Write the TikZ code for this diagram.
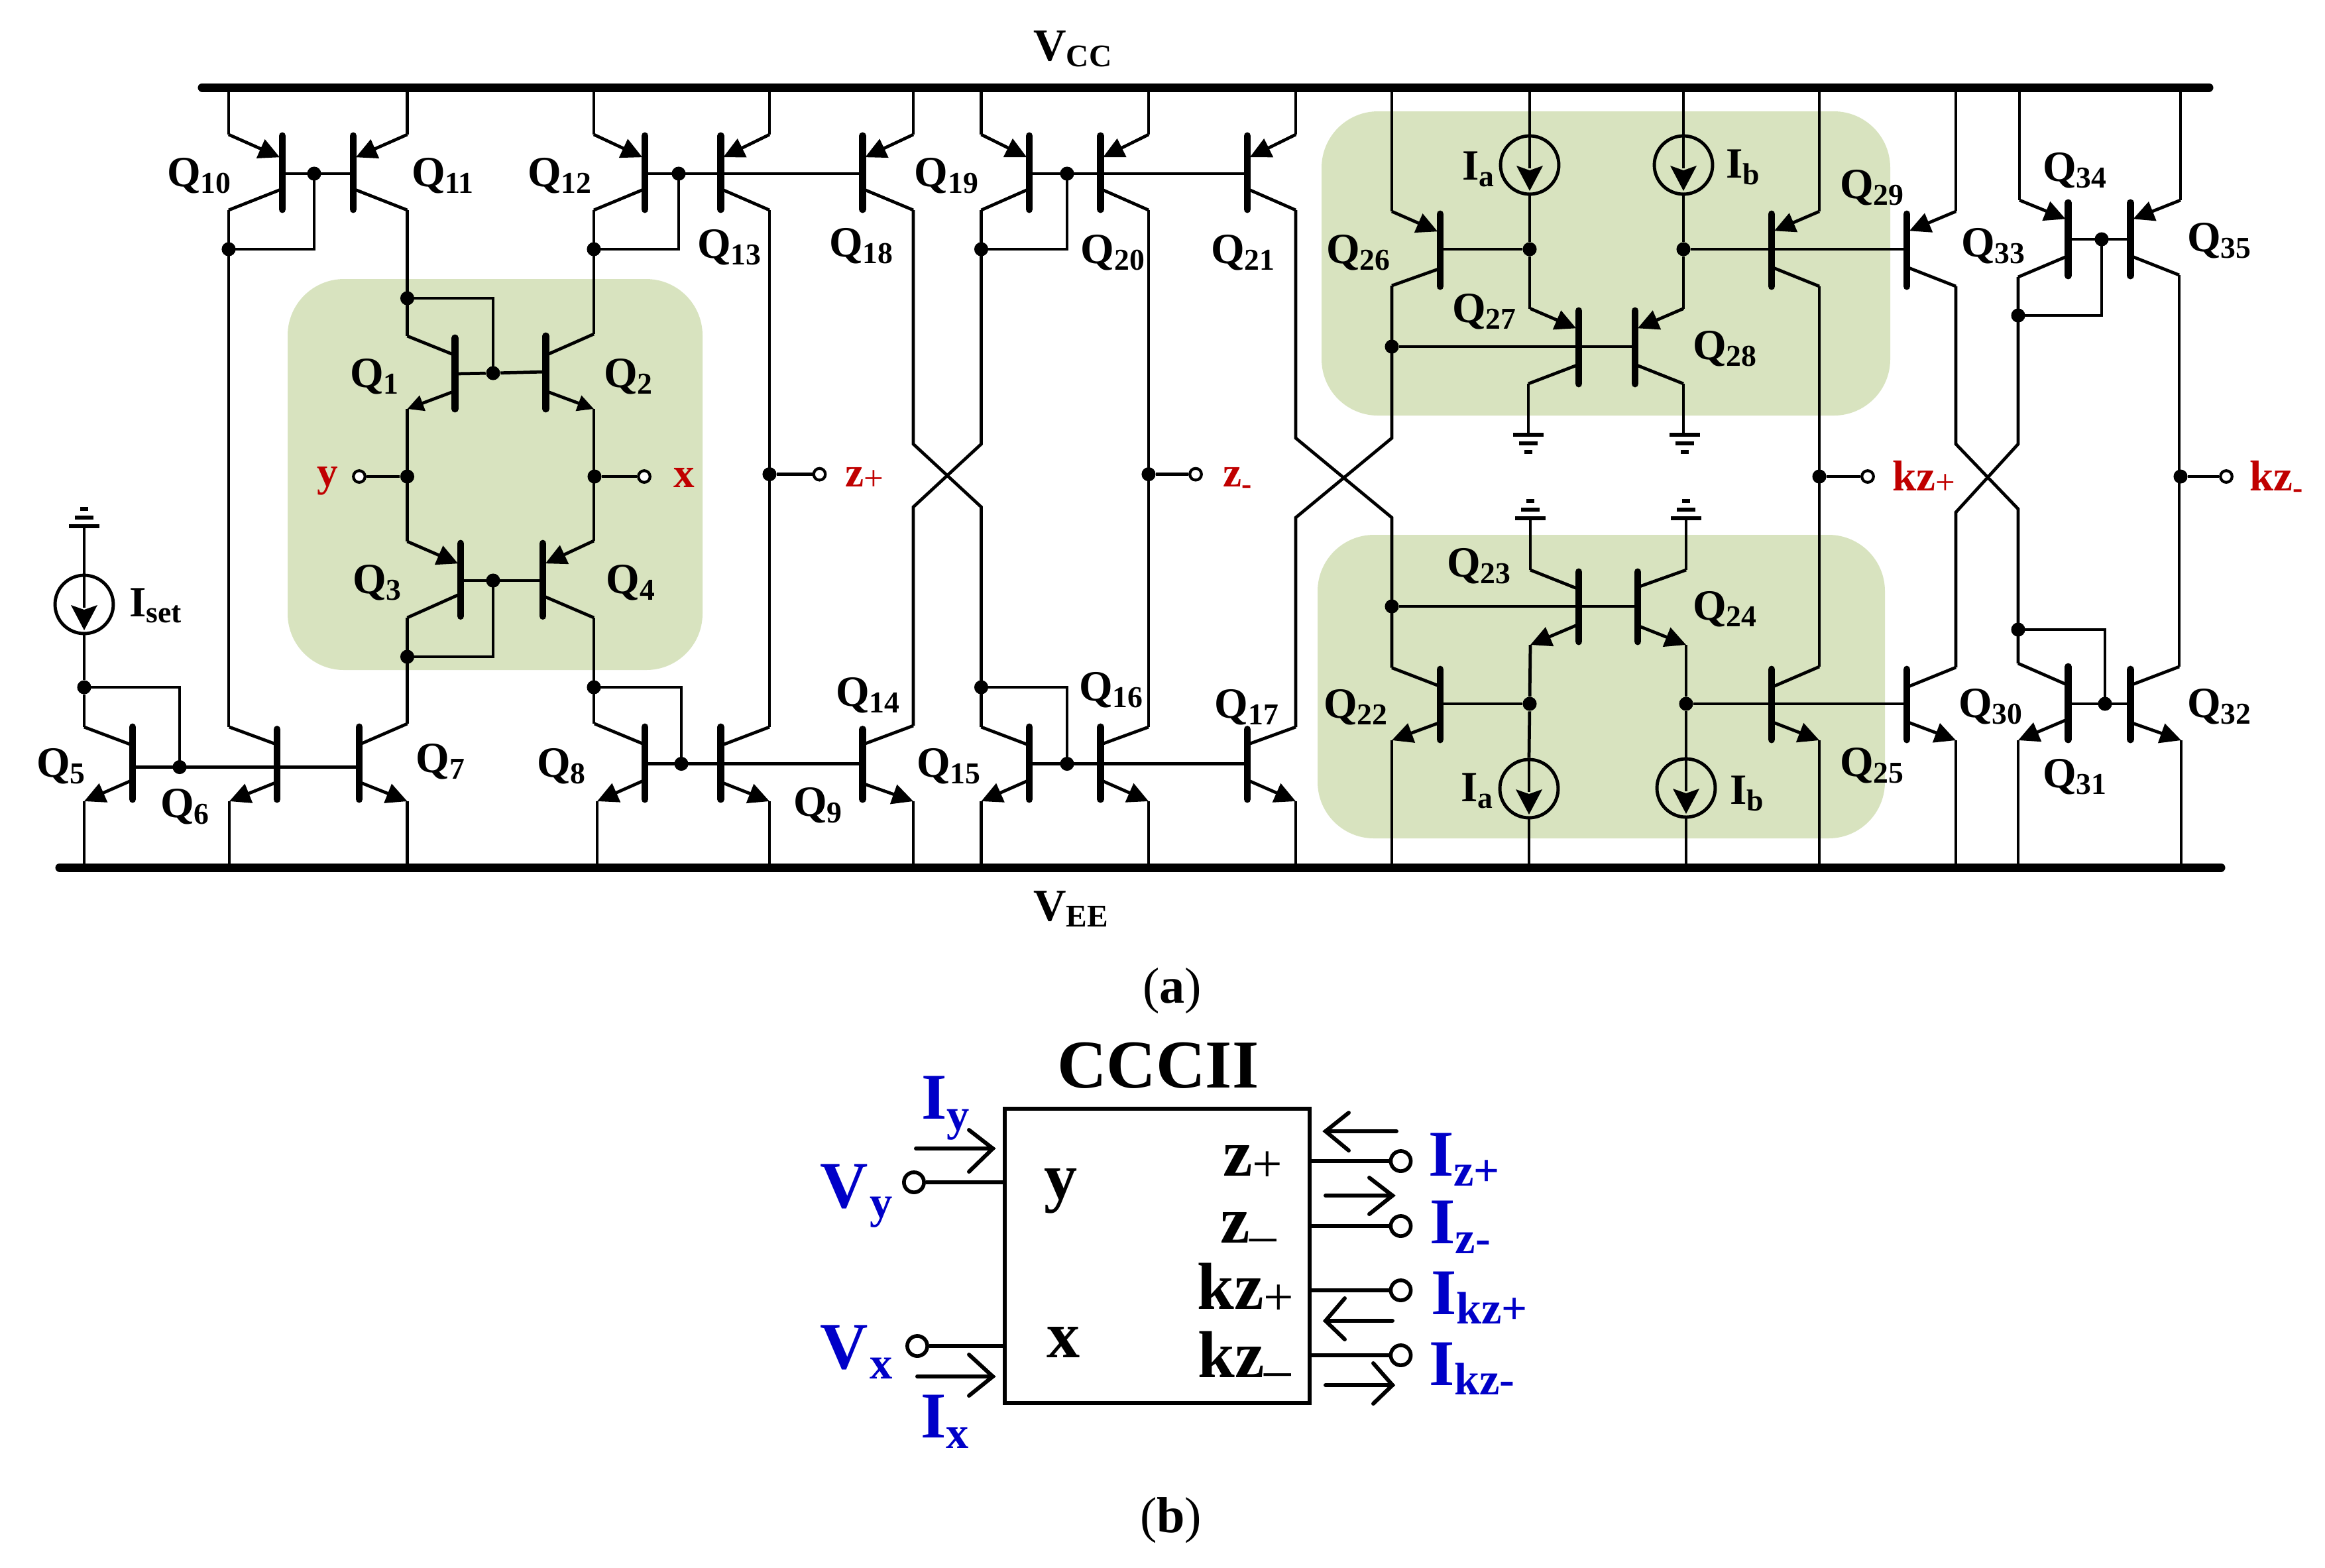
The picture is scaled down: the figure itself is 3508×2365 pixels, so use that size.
\documentclass[tikz,border=0pt]{standalone}
\usepackage{fontspec}
\setmainfont{Liberation Serif}
\usetikzlibrary{arrows.meta,calc}
\definecolor{grn}{HTML}{D8E3BF}
\definecolor{lred}{HTML}{C00000}
\definecolor{lblue}{HTML}{0000C8}
\tikzset{
 wire/.style={line width=1.35pt,line join=miter},
 rail/.style={line width=3.7pt,line cap=round},
 barb/.style={line width=3.1pt,line cap=round},
 jn/.style={circle,fill=black,inner sep=0pt,minimum size=6pt},
 term/.style={circle,draw=black,fill=white,line width=1.2pt,inner sep=0pt,minimum size=5pt},
 bterm/.style={circle,draw=black,fill=white,line width=1.6pt,inner sep=0pt,minimum size=8.6pt},
 src/.style={circle,draw=black,line width=1.4pt,inner sep=0pt,minimum size=25pt},
 txt/.style={anchor=base west,inner sep=0pt,outer sep=0pt},
 green/.style={fill=grn,rounded corners=0.85cm},
 bline/.style={line width=1.7pt},
 oarrow/.style={line width=1.7pt,line cap=round,line join=miter},
 tipT/.style={-{Triangle[length=9pt,width=8.6pt]},shorten >=1.2pt},
 tipB/.style={-{Triangle[length=9pt,width=8.6pt]}},
 tipS/.style={-{Triangle[length=7pt,width=6.8pt]}}
}
\newcommand{\lb}[9][black]{\node[txt,text=#1] (#2) at (#3,#4) {\fontsize{#5}{#5}\selectfont\bfseries #6\fontsize{#7}{#7}\selectfont\mdseries\raisebox{-#9}{#8}};}
\newcommand{\lbb}[9][lblue]{\node[txt,text=#1] (#2) at (#3,#4) {\fontsize{#5}{#5}\selectfont\bfseries #6\fontsize{#7}{#7}\selectfont\raisebox{-#9}{#8}};}
\newcommand{\Qq}[3]{\lbb[black]{lQ#3}{#1}{#2-3}{18.5pt}{Q}{13pt}{#3}{3.1pt}}
\def\kT{T}\def\kB{B}\def\kS{S}
\newcommand{\bjt}[5]{\def\bjtn{#1}\def\bjtt{#2}\def\bjtb{#3}\def\bjtwa{#4}\def\bjtwb{#5}\bjtrest}
\newcommand{\bjtrest}[6]{%
 \coordinate (\bjtn) at (\bjtb,{(#1+#2)/2});
 \ifx\bjtt\kT
  \draw[wire,tipT] (\bjtwa,#3) -- (\bjtb,#4);
  \draw[wire] (\bjtb,#5) -- (\bjtwb,#6);
 \else
  \draw[wire] (\bjtwa,#3) -- (\bjtb,#4);
  \ifx\bjtt\kS
   \draw[wire,tipS] (\bjtb,#5) -- (\bjtwb,#6);
  \else
   \draw[wire,tipB] (\bjtb,#5) -- (\bjtwb,#6);
  \fi
 \fi
 \draw[barb] (\bjtb,#1) -- (\bjtb,#2);
}
\newcommand{\isrc}[3]{%
 \node[src] (#1) at (#2,#3) {};
 \draw[wire] (#1.north) -- (#2,#3+5);
 \fill (#2,#3+39) -- (#2-20,#3+1) -- (#2,#3+8) -- (#2+20,#3+1) -- cycle;
}
\newcommand{\gnd}[3]{%
 \draw[line width=1.5pt] (#1-23,#2) -- (#1+23,#2);
 \draw[line width=1.5pt] (#1-14,#2+#3*13) -- (#1+14,#2+#3*13);
 \draw[line width=1.5pt] (#1-6,#2+#3*26) -- (#1+6,#2+#3*26);
}
\begin{document}
\begin{tikzpicture}[x=0.01cm,y=-0.01cm]
\useasboundingbox (0,0) rectangle (3508,2365);
% green regions
\fill[green] (434,421) rectangle (1060,1011);
\fill[green] (1994,168) rectangle (2852,627);
\fill[green] (1988,807) rectangle (2844,1265);
% rails
\draw[rail] (305,132) -- (3333,132);
\draw[rail] (90,1309) -- (3351,1309);
% junctions
\foreach \n/\x/\y in {a1/474/262,a2/345/376,b1/1024/262,b2/896/376,c1/1610/262,c2/1480.5/376,
 d1/614.5/450,d2/744/563,d3/614.5/719,d4/897/719,d5/744/876,d6/614.5/991,d7/896/1037,d8/1028/1152.5,
 e1/127/1037,e2/271/1157.5,f1/1161/715.6,f2/1733/715.6,g1/1480.5/1037,g2/1610/1152.5,
 h1/2308/376,h2/2540/376,h3/2100/523,h4/2100/915,h5/2308/1062,h6/2544/1062,
 i1/2745/719,i2/3290/719,j1/3171/361,j2/3045/476,j3/3045/950,j4/3176/1062}
 \node[jn] (\n) at (\x,\y) {};
% terminals
\foreach \n/\x/\y in {ty/542/719,tx/972/719,tzp/1236.5/715.6,tzm/1804/715.6,tkp/2818/719,tkm/3359/719}
 \node[term] (\n) at (\x,\y) {};
% transistors, upper row
\bjt{T10}{T}{426}{345}{345}{205}{316}{203}{239}{285}{317}
\bjt{T11}{T}{533}{614.5}{614.5}{205}{316}{203}{239}{285}{317}
\bjt{T12}{T}{973}{896}{896}{205}{316}{203}{239}{285}{317}
\bjt{T13}{T}{1087.5}{1161}{1161}{205}{316}{203}{239}{285}{317}
\bjt{T18}{T}{1301.5}{1378}{1378}{205}{316}{203}{239}{285}{317}
\bjt{T19}{T}{1553}{1480.5}{1480.5}{205}{316}{203}{239}{285}{317}
\bjt{T20}{T}{1660.5}{1733}{1733}{205}{316}{203}{239}{285}{317}
\bjt{T21}{T}{1882}{1955}{1955}{205}{316}{203}{239}{285}{317}
\bjt{T26}{T}{2173}{2100}{2100}{323}{432}{319}{351}{405}{431}
\bjt{T29}{T}{2673}{2745}{2745}{323}{432}{319}{350}{403}{432}
\bjt{T33}{T}{2877}{2951}{2951}{323}{432}{319}{350}{403}{432}
\bjt{T34}{T}{3120.5}{3047}{3045}{306}{416}{302}{332}{386}{418}
\bjt{T35}{T}{3214.5}{3290}{3288}{306}{416}{302}{332}{386}{415}
\bjt{T27}{T}{2382}{2309}{2306}{469}{579}{465.6}{497}{550}{579}
\bjt{T28}{T}{2467}{2540}{2540}{469}{579}{465.6}{497}{550}{579}
% transistors, lower row
\bjt{T5}{B}{200}{127}{127}{1097}{1206}{1097}{1124.5}{1177}{1209}
\bjt{T6}{B}{418}{346}{346}{1100.5}{1206}{1097}{1123.5}{1180}{1209}
\bjt{T7}{B}{542}{614.5}{614.5}{1097}{1206}{1092}{1123.5}{1180}{1209}
\bjt{T8}{B}{973}{897}{901}{1097}{1206}{1092}{1123.5}{1177}{1209}
\bjt{T9}{B}{1087.5}{1161}{1161}{1097}{1206}{1097}{1125}{1180}{1209}
\bjt{T14}{B}{1301.5}{1378}{1378}{1100.5}{1206}{1095}{1123.5}{1182}{1209}
\bjt{T15}{B}{1553}{1480.5}{1480.5}{1097}{1206}{1097}{1124.5}{1177}{1209}
\bjt{T16}{B}{1660.5}{1733}{1733}{1097}{1206}{1097}{1123.5}{1177}{1209}
\bjt{T17}{B}{1882}{1955}{1955}{1100.5}{1206}{1097}{1123.5}{1177}{1209}
\bjt{T22}{B}{2173}{2100}{2100}{1010}{1116}{1007.6}{1035.7}{1090}{1117}
\bjt{T25}{B}{2673}{2745}{2745}{1010}{1116}{1006}{1037}{1089}{1117}
\bjt{T30}{B}{2877}{2951}{2951}{1010}{1116}{1007}{1037}{1089}{1117}
\bjt{T31}{B}{3120.5}{3045}{3045}{1006}{1116}{1001}{1034}{1085}{1117}
\bjt{T32}{B}{3214.5}{3288}{3291}{1010}{1116}{1006}{1034}{1090}{1117}
\bjt{T23}{B}{2382}{2309}{2309}{863}{968}{860}{889}{942}{973}
\bjt{T24}{B}{2471}{2544}{2544}{863}{968}{860}{886}{944}{973}
% core
\bjt{T1}{S}{686.5}{614.5}{614.5}{510}{617}{507}{536}{590}{617}
\bjt{T2}{S}{823.5}{896}{896}{507}{617}{504}{536}{590}{617}
\bjt{T3}{T}{695}{614.5}{614.5}{820}{929.6}{817}{852}{896}{932}
\bjt{T4}{T}{819}{896}{896}{820}{929.6}{816}{852}{899}{932}
% rail stubs
\foreach \x/\y in {345/203,614.5/203,896/203,1161/203,1378/203,1480.5/203,1733/203,1955/203,2100/319,2745/319,2951/319,3047/302,3290/302}
 \draw[wire] (\x,132) -- (\x,\y);
\foreach \x/\y in {127/1209,346/1209,614.5/1209,901/1209,1161/1209,1378/1209,1480.5/1209,1733/1209,1955/1209,2100/1117,2745/1117,2951/1117,3045/1117,3291/1117}
 \draw[wire] (\x,\y) -- (\x,1309);
% bases
\draw[wire] (T10|-a1) -- (T11|-a1);
\draw[wire] (T12|-b1) -- (T18|-b1);
\draw[wire] (T19|-c1) -- (T21|-c1);
\draw[wire] (T26|-h1) -- (h1);
\draw[wire] (h2) -- (T33|-h2);
\draw[wire] (h3) -- (T28|-h3);
\draw[wire] (T34|-j1) -- (T35|-j1);
\draw[wire] (686.5,564) -- (d2) -- (823.5,561);
\draw[wire] (T3|-d5) -- (T4|-d5);
\draw[wire] (T5|-e2) -- (T7|-e2);
\draw[wire] (T8|-d8) -- (T14|-d8);
\draw[wire] (T15|-g2) -- (T17|-g2);
\draw[wire] (T22|-h5) -- (h5);
\draw[wire] (h6) -- (T30|-h6);
\draw[wire] (T31|-j4) -- (T32|-j4);
\draw[wire] (h4) -- (T24|-h4);
% feedback
\draw[wire] (a2.center) -| (a1.center);
\draw[wire] (b2.center) -| (b1.center);
\draw[wire] (c2.center) -| (c1.center);
\draw[wire] (d1.center) -| (d2.center);
\draw[wire] (d6.center) -| (d5.center);
\draw[wire] (e1.center) -| (e2.center);
\draw[wire] (d7.center) -| (d8.center);
\draw[wire] (g1.center) -| (g2.center);
\draw[wire] (j2.center) -| (j1.center);
\draw[wire] (j3.center) -| (j4.center);
% long wires
\draw[wire] (345,317) -- (345,1097);
\draw[wire] (614.5,317) -- (614.5,507);
\draw[wire] (896,317) -- (896,504);
\draw[wire] (1161,317) -- (1161,1097);
\draw[wire] (1378,317) -- (1378,670) -- (1480.5,765) -- (1480.5,1097);
\draw[wire] (1480.5,317) -- (1480.5,670) -- (1378,765) -- (1378,1095);
\draw[wire] (1733,317) -- (1733,1097);
\draw[wire] (1955,317) -- (1955,661) -- (2100,781) -- (2100,1007.6);
\draw[wire] (2100,431) -- (2100,661) -- (1955,781) -- (1955,1097);
\draw[wire] (2745,432) -- (2745,1006);
\draw[wire] (2951,432) -- (2951,670) -- (3045,768) -- (3045,1001);
\draw[wire] (3045,418) -- (3045,670) -- (2951,773) -- (2951,1007);
\draw[wire] (3288,415) -- (3288,1006);
\draw[wire] (614.5,617) -- (614.5,817);
\draw[wire] (896,617) -- (896,816);
\draw[wire] (614.5,932) -- (614.5,1092);
\draw[wire] (896,932) -- (896,1092);
% outputs
\draw[wire] (d3) -- (ty);
\draw[wire] (d4) -- (tx);
\draw[wire] (f1) -- (tzp);
\draw[wire] (f2) -- (tzm);
\draw[wire] (i1) -- (tkp);
\draw[wire] (i2) -- (tkm);
% current sources
\isrc{Ia}{2308}{249}
\isrc{Ib}{2540}{249}
\isrc{Ic}{2307}{1190}
\isrc{Id}{2544}{1189}
\isrc{Is}{127}{912}
\draw[wire] (2308,132) -- (Ia.north);
\draw[wire] (2540,132) -- (Ib.north);
\draw[wire] (Ia.south) -- (h1);
\draw[wire] (Ib.south) -- (h2);
\draw[wire] (h1) -- (2308,465.6);
\draw[wire] (h2) -- (2540,465.6);
\draw[wire] (2309,973) -- (h5);
\draw[wire] (2544,973) -- (h6);
\draw[wire] (h5) -- (Ic.north);
\draw[wire] (h6) -- (Id.north);
\draw[wire] (Ic.south) -- (2307,1309);
\draw[wire] (Id.south) -- (2544,1309);
\draw[wire] (Is.south) -- (e1);
\draw[wire] (e1) -- (127,1097);
\draw[wire] (127,794) -- (Is.north);
% grounds
\gnd{127}{794}{-1}
\gnd{2306}{656}{1}
\gnd{2542}{656}{1}
\gnd{2309}{782}{-1}
\gnd{2544}{782}{-1}
\draw[wire] (2306,579) -- (2306,656);
\draw[wire] (2540,579) -- (2540,656);
\draw[wire] (2309,860) -- (2309,782);
\draw[wire] (2544,860) -- (2544,782);
% transistor labels
\Qq{252}{284}{10}\Qq{621}{284}{11}\Qq{796}{284}{12}\Qq{1052}{392}{13}
\Qq{528}{587}{1}\Qq{911}{587}{2}\Qq{532}{898}{3}\Qq{914.5}{898}{4}
\Qq{55}{1175}{5}\Qq{242}{1236}{6}\Qq{627.5}{1168}{7}\Qq{810}{1175}{8}\Qq{1197}{1234}{9}
\Qq{1261}{1068}{14}\Qq{1383}{1175}{15}\Qq{1628}{1060}{16}\Qq{1832.6}{1086}{17}
\Qq{1251}{390}{18}\Qq{1379.6}{284}{19}\Qq{1630.6}{400}{20}\Qq{1827}{400}{21}
\Qq{2001}{400}{26}\Qq{2191}{489}{27}\Qq{2183}{873}{23}\Qq{1997}{1086}{22}
\Qq{2554}{545}{28}\Qq{2776}{302}{29}\Qq{2959}{390}{33}\Qq{3082}{276}{34}\Qq{3300}{382}{35}
\Qq{2554}{938}{24}\Qq{2776}{1174}{25}\Qq{2955}{1085}{30}\Qq{3082}{1191}{31}\Qq{3300}{1085}{32}
% other labels
\lbb[black]{lvcc}{1559.4}{91}{19.5pt}{V}{13.5pt}{CC}{2.8pt}
\lbb[black]{lvee}{1559.4}{1389}{19.5pt}{V}{13.5pt}{EE}{2.8pt}
\lbb[black]{liset}{195}{930}{18.5pt}{I}{13pt}{set}{2.8pt}
\lbb[black]{lia}{2206}{271}{18.5pt}{I}{13pt}{a}{3pt}
\lbb[black]{lib}{2604}{268}{18.5pt}{I}{13pt}{b}{3pt}
\lbb[black]{lic}{2204.5}{1209}{18.5pt}{I}{13pt}{a}{3pt}
\lbb[black]{lid}{2610}{1213}{18.5pt}{I}{13pt}{b}{3pt}
\node[txt,text=lred] (ly) at (478,733) {\fontsize{18pt}{18pt}\selectfont\bfseries y};
\node[txt,text=lred] (lx) at (1016,735) {\fontsize{18pt}{18pt}\selectfont\bfseries x};
\lb[lred]{lzp}{1275}{734.7}{18pt}{z}{15pt}{+}{1.5pt}
\lbb[lred]{lzm}{1845}{734.7}{18pt}{z}{13pt}{-}{3.2pt}
\lb[lred]{lkp}{2855}{740}{18.5pt}{kz}{15pt}{+}{1.5pt}
\lbb[lred]{lkm}{3394}{740}{18.5pt}{kz}{13pt}{-}{3.2pt}
% captions
\node[txt] (capa) at (1724,1513) {\fontsize{21.7pt}{21.7pt}\selectfont (\textbf{a})};
\node[txt] (capb) at (1720,2312) {\fontsize{21.7pt}{21.7pt}\selectfont (\textbf{b})};
% CCCII block
\node[draw=black,line width=1.7pt,inner sep=0pt,minimum width=4.6cm,minimum height=4.435cm] (box) at (1745.8,1895.2) {};
\node[txt] (lccc) at (1595,1641) {\fontsize{29.4pt}{29.4pt}\selectfont\bfseries CCCII};
\foreach \n/\x/\y in {tVy/1379/1784,tVx/1384/2031,tZp/2113.5/1752,tZm/2113.5/1850,tKp/2113.5/1947,tKm/2113.5/2045}
 \node[bterm] (\n) at (\x,\y) {};
\draw[bline] (tVy) -- (tVy-|box.west);
\draw[bline] (tVx) -- (tVx-|box.west);
\draw[bline] (tZp) -- (tZp-|box.east);
\draw[bline] (tZm) -- (tZm-|box.east);
\draw[bline] (tKp) -- (tKp-|box.east);
\draw[bline] (tKm) -- (tKm-|box.east);
% current arrows
\draw[oarrow] (1382,1733) -- (1498,1733);
\draw[oarrow] (1462,1705) -- (1498,1733) -- (1462,1768);
\draw[oarrow] (1384,2077) -- (1498,2077);
\draw[oarrow] (1462,2044) -- (1498,2077) -- (1462,2106);
\draw[oarrow] (2107,1707) -- (2000,1707);
\draw[oarrow] (2035,1679) -- (2000,1707) -- (2035,1736);
\draw[oarrow] (2000,1804) -- (2101,1804);
\draw[oarrow] (2066,1777) -- (2101,1804) -- (2066,1832);
\draw[oarrow] (2101,1993) -- (2000,1993);
\draw[oarrow] (2029,1959) -- (2000,1993) -- (2029,2021);
\draw[oarrow] (2000,2090) -- (2101,2090);
\draw[oarrow] (2072,2057) -- (2101,2090) -- (2072,2118);
% block text
\node[txt] (by) at (1575,1809) {\fontsize{28.5pt}{28.5pt}\selectfont\bfseries y};
\node[txt] (bx) at (1579.5,2048) {\fontsize{28.5pt}{28.5pt}\selectfont\bfseries x};
\lb{bzp}{1845}{1774}{28.5pt}{z}{23pt}{+}{2.8pt}
\lb{bzm}{1841}{1875}{28.5pt}{z}{23pt}{–}{4.5pt}
\lb{bkp}{1806.7}{1975}{28.5pt}{kz}{23pt}{+}{2.8pt}
\lb{bkm}{1807.5}{2078}{28.5pt}{kz}{23pt}{–}{4.5pt}
\lbb{lVy}{1237}{1822}{28.5pt}{V}{19.5pt}{\hspace{1pt}y}{4.5pt}
\lbb{lVx}{1237}{2065.6}{28.5pt}{V}{19.5pt}{\hspace{1pt}x}{4.2pt}
\lbb{lIy}{1390.5}{1688}{28pt}{I}{19.5pt}{y}{5pt}
\lbb{lIx}{1389}{2169.5}{28pt}{I}{19.5pt}{x}{4.5pt}
\lbb{lIzp}{2155}{1774}{28pt}{I}{19.5pt}{z+}{4.5pt}
\lbb{lIzm}{2157.5}{1876}{28pt}{I}{19.5pt}{z-}{4.5pt}
\lbb{lIkp}{2159}{1983}{28pt}{I}{19.5pt}{kz+}{4pt}
\lbb{lIkm}{2156}{2090}{28pt}{I}{19.5pt}{kz-}{4.2pt}
\end{tikzpicture}
\end{document}
